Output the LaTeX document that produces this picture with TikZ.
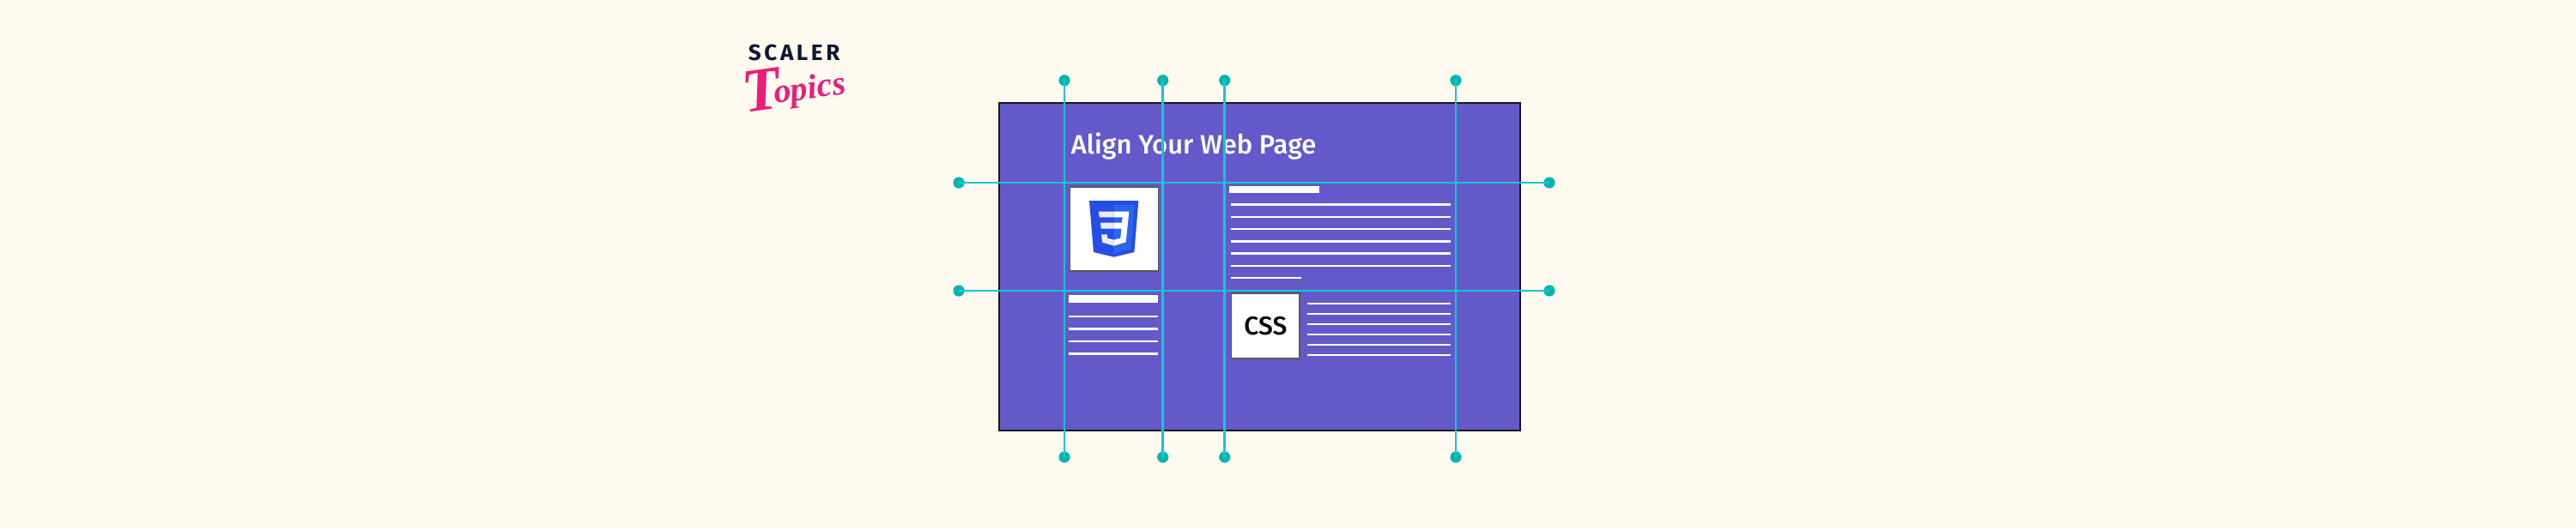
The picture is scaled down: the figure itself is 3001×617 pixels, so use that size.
\documentclass[tikz,border=0pt]{standalone}
\usepackage{fontspec}
\setmainfont{Fira Sans}
\newfontfamily\titlefont{Fira Sans Medium}
\newfontfamily\cssfont{Fira Sans Medium}
\newfontfamily\scalerfont[LetterSpace=14]{Fira Sans}
\newfontfamily\topicsfont{Liberation Serif}
\definecolor{bgcol}{HTML}{FFFAF0}
\definecolor{panelcol}{HTML}{6459C8}
\definecolor{guidecol}{HTML}{12C6D8}
\definecolor{dotcol}{HTML}{00B6AE}
\definecolor{framecol}{HTML}{57565F}
\definecolor{navycol}{HTML}{0D1730}
\definecolor{pinkcol}{HTML}{E91E78}
\definecolor{shieldleft}{HTML}{264DE4}
\definecolor{shieldright}{HTML}{2965F1}
\definecolor{threelight}{HTML}{EBEBEB}
\tikzset{
  panel/.style={rectangle,draw=black!90,line width=1pt,fill=panelcol,inner sep=0pt,anchor=north west},
  guide/.style={draw=guidecol,line width=1.25pt},
  pin/.style={circle,fill=dotcol,draw=none,minimum size=6.6pt,inner sep=0pt},
  whitebox/.style={rectangle,draw=framecol,line width=0.85pt,fill=white,inner sep=0pt,anchor=north west},
  bar/.style={fill=white,draw=none},
  textline/.style={draw=white,line width=1.2pt},
  lbl/.style={inner sep=0pt,anchor=base west}
}
\begin{document}
\begin{tikzpicture}[x=0.5pt,y=-0.5pt]
\useasboundingbox (0,0) rectangle (3001,617);
\fill[bgcol] (0,0) rectangle (3001,617);
% logo
\node[lbl,text=navycol] (scaler) at (871.5,70.7) {\scalerfont\bfseries\fontsize{13}{15}\selectfont SCALER};
\node[inner sep=0pt,text=pinkcol,rotate=8,anchor=base west] (topics) at (867,126) {\topicsfont\itshape\bfseries\raisebox{-3pt}{\fontsize{36}{38}\selectfont T}\kern-4pt\fontsize{20}{22}\selectfont opics};
% panel
\node[panel,minimum width=303.65pt,minimum height=191.15pt] (page) at (1163,118.7) {};
% title
\node[lbl,text=white] (title) at (1247.5,179.3) {\titlefont\fontsize{15.5}{17}\selectfont Align Your Web Page};
% css3 box
\node[whitebox,minimum width=51.4pt,minimum height=48.85pt] (logobox) at (1245.7,217.3) {};
\begin{scope}[shift={(1260,225)},x=0.166667pt,y=-0.166667pt]
\fill[shieldleft] (27,27) -- (199,27) -- (184,207) -- (113,224) -- (42,207) -- cycle;
\fill[shieldright] (113,42) -- (184,42) -- (174,195) -- (113,212) -- cycle;
\fill[threelight] (60,65) -- (113,65) -- (113,85) -- (62,85) -- cycle;
\fill[threelight] (66,104) -- (113,104) -- (113,125) -- (68,125) -- cycle;
\fill[threelight] (69,145) -- (89,145) -- (90,158) -- (113,164) -- (113,185) -- (72,173) -- cycle;
\fill[white] (113,65) -- (166,65) -- (155,172) -- (113,185) -- (113,164) -- (136,158) -- (139,125) -- (113,125) -- (113,104) -- (141,104) -- (143,85) -- (113,85) -- cycle;
\end{scope}
% upper right text block
\fill[bar] (1432,217) rectangle (1537,224.7);
\foreach \yy in {238.3,252.7,267,281.3,295.5,309.7}
  \draw[textline] (1433.7,\yy) -- (1690,\yy);
\draw[textline] (1433.7,324) -- (1515.7,324);
% lower left text block
\fill[bar] (1245.3,344.3) rectangle (1348.7,352.7);
\foreach \yy in {368.7,383.3,397.7,412.3}
  \draw[textline] (1245.3,\yy) -- (1349,\yy);
% css box
\node[whitebox,minimum width=39.8pt,minimum height=38.15pt] (cssbox) at (1433.7,341) {};
\node[inner sep=0pt,anchor=base,text=black] (csslabel) at (1474.3,390) {\cssfont\fontsize{15}{16}\selectfont CSS};
\foreach \yy in {353.7,365.7,377.7,389.7,401.7,413.7}
  \draw[textline] (1523.3,\yy) -- (1690,\yy);
% guides
\foreach \n/\xx in {a/1240,b/1354.7,c/1426.7,d/1696}{
  \node[pin] (top\n) at (\xx,93.7) {};
  \node[pin] (bot\n) at (\xx,533) {};
  \draw[guide] (top\n.center) -- (bot\n.center);
}
\foreach \n/\yy in {a/213,b/339}{
  \node[pin] (left\n) at (1117,\yy) {};
  \node[pin] (right\n) at (1805,\yy) {};
  \draw[guide] (left\n.center) -- (right\n.center);
}
\end{tikzpicture}
\end{document}
